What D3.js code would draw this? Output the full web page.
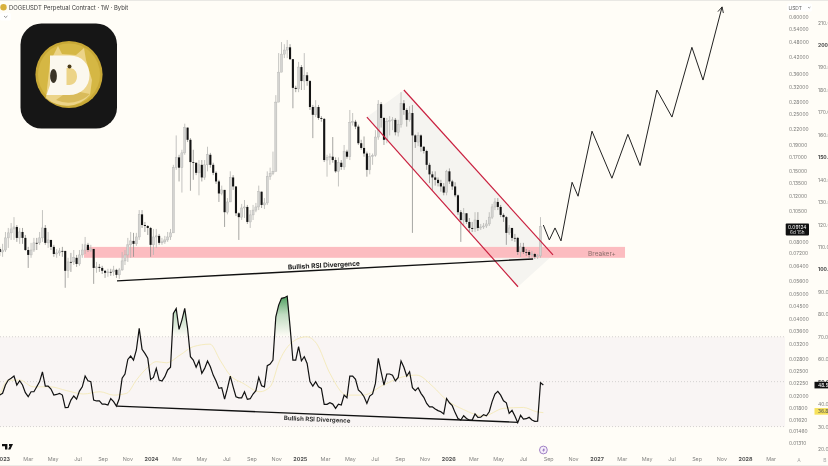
<!DOCTYPE html>
<html>
<head>
<meta charset="utf-8">
<script src="https://d3js.org/d3.v7.min.js"></script>
<style>
html, body { margin: 0; padding: 0; background: #fffdf7; overflow: hidden; }
svg { display: block; font-family: "Inter", "Liberation Sans", sans-serif; filter: blur(0.3px); }
</style>
</head>
<body>
<div id="chart"></div>
<script>
const width = 828, height = 466;

// weekly candles, the first one is the week before Jan 2023
const firstOpen = 0.0748;
const closes = [
	.0728,.0741,.0826,.0864,.0895,.0911,.0826,.0871,.0826,.0741,.0709,.0741,.0790,.0790,.0826,.0903,.0790,.0811,.0762,.0715,
	.0722,.0735,.0735,.0615,.0666,.0666,.0691,.0654,.0709,.0741,.0776,.0741,.0748,.0631,.0637,.0631,.0615,.0604,.0609,.0609,
	.0620,.0593,.0620,.0672,.0709,.0776,.0804,.0783,.0833,.102,.0927,.0919,.0903,.0776,.0833,.0841,.0790,.0797,.0811,.0833,
	.0864,.155,.170,.155,.177,.222,.199,.163,.162,.148,.159,.142,.159,.174,.159,.148,.137,.123,.127,.104,
	.114,.142,.131,.103,.0995,.108,.109,.0953,.1015,.106,.109,.125,.111,.113,.143,.147,.150,.279,.365,.429,
	.445,.456,.410,.317,.314,.382,.337,.355,.337,.267,.249,.267,.242,.240,.166,.170,.171,.166,.150,.162,
	.156,.179,.171,.232,.234,.224,.193,.185,.176,.152,.171,.173,.204,.274,.242,.199,.234,.236,.238,.213,
	.228,.276,.260,.238,.253,.207,.195,.207,.187,.180,.159,.146,.142,.139,.135,.131,.124,.150,.137,.131,
	.121,.104,.0970,.103,.0953,.0903,.0895,.0970,.0903,.0911,.0919,.0936,.0995,.109,.114,.109,.1015,.0995,.0864,.0903,
	.0826,.0826,.0728,.0762,.0728,.0728,.0709,.0715,.0697,.0703,.09124
];
const highs = [
	.0762,.0783,.0871,.0903,.0944,.0995,.0927,.0903,.0903,.0848,.0762,.0790,.0826,.0826,.0871,.106,.0927,.0871,.0811,.0776,
	.0748,.0755,.0762,.0735,.0691,.0722,.0741,.0709,.0741,.0783,.0833,.0790,.0776,.0748,.0666,.0654,.0643,.0620,.0626,.0626,
	.0643,.0626,.0631,.0728,.0741,.0826,.0871,.0864,.0864,.106,.106,.0953,.0927,.0911,.0895,.0895,.0856,.0826,.0841,.0871,
	.0895,.159,.207,.174,.182,.230,.222,.202,.182,.162,.166,.166,.166,.187,.177,.162,.150,.139,.132,.127,
	.118,.150,.145,.131,.104,.112,.116,.111,.106,.111,.113,.132,.125,.118,.150,.155,.179,.297,.433,.478,
	.469,.487,.469,.410,.323,.400,.389,.433,.365,.340,.272,.284,.272,.246,.242,.174,.176,.204,.170,.170,
	.166,.190,.182,.260,.253,.238,.228,.199,.205,.179,.177,.176,.217,.284,.279,.244,.242,.246,.244,.242,
	.238,.305,.284,.264,.269,.272,.209,.213,.209,.188,.182,.162,.150,.150,.142,.139,.135,.152,.154,.139,
	.136,.122,.106,.108,.103,.0987,.0953,.104,.104,.0936,.0944,.0970,.104,.112,.118,.118,.111,.103,.1005,.0927,
	.0903,.0856,.0833,.0790,.0790,.0748,.0741,.0735,.0722,.0715,.0995
];
const lows = [
	.0703,.0697,.0728,.0755,.0811,.0811,.0797,.0783,.0783,.0735,.0631,.0691,.0728,.0741,.0776,.0797,.0776,.0755,.0741,.0697,
	.0691,.0703,.0697,.0528,.0577,.0609,.0648,.0637,.0643,.0691,.0715,.0728,.0728,.0547,.0604,.0609,.0598,.0577,.0583,.0588,
	.0588,.0577,.0572,.0615,.0648,.0666,.0691,.0697,.0769,.0811,.0903,.0871,.0848,.0697,.0709,.0755,.0776,.0776,.0783,.0797,
	.0811,.0864,.152,.137,.124,.174,.195,.126,.139,.145,.121,.137,.139,.150,.155,.145,.134,.114,.121,.0911,
	.102,.114,.127,.1005,.0811,.0970,.0987,.0936,.0903,.0970,.104,.106,.108,.107,.111,.139,.145,.150,.279,.365,
	.414,.414,.407,.264,.305,.305,.311,.311,.323,.260,.202,.244,.238,.234,.163,.143,.159,.162,.148,.131,
	.152,.152,.168,.166,.226,.219,.190,.182,.171,.143,.146,.159,.171,.199,.222,.190,.193,.207,.217,.207,
	.205,.222,.249,.224,.234,.0864,.185,.188,.179,.176,.152,.135,.127,.132,.131,.125,.121,.121,.134,.127,
	.119,.1015,.0797,.0927,.0936,.0871,.0871,.0871,.0879,.0887,.0895,.0903,.0919,.0978,.106,.106,.0995,.0953,.0776,.0848,
	.0804,.0797,.0709,.0697,.0715,.0703,.0691,.0691,.0684,.0684,.0691
];

const rsi = [
	44,44.8,48.5,50.7,51.5,52.5,48.5,50.4,48.5,45.1,43.3,45.5,45.5,47.7,50,54.3,48,48,46.7,44,
	44.3,44.8,44,38.4,38.5,41.8,43.6,42.2,45.8,47.7,52.5,50.4,50,41.8,41.4,41.4,40,40,39.6,42.5,
	41.1,39.1,42.5,51.5,53.4,59.9,61.4,59.6,64.1,73.7,64.4,62.6,60.4,51,51.9,55.9,50.7,50.3,52.2,55.2,
	56.4,80.4,82.6,73.3,77.4,82.6,73.7,61.1,59.6,56.4,59.3,53.7,55.9,59.2,56.6,52.9,50.3,47,47.3,42.2,
	47,52.5,47.7,43.3,42.8,42.8,45.5,42.1,42.4,44.5,46,51.9,48.2,47.7,57.1,57.8,59.6,78.9,84.1,87.1,
	87.4,88.1,74.5,59.6,59.6,65.6,59.3,61.1,58.1,50,48,50,47.7,47,39.9,39.9,40.6,40,38.1,40,
	39.6,44,42.8,52.5,52.5,51,46.3,45.1,43.3,40.3,43.6,44.5,49.2,60.4,54.4,48.5,53.4,53.4,52.9,50.3,
	51.9,59.2,56.4,52.5,54.4,47.3,46,47.3,44.8,43,40.3,38.8,38.8,37.8,37.1,36.6,35.6,42.5,40.6,39.3,
	36.2,33.6,32.9,34.8,33.6,32.9,32.9,35.6,34.1,34.2,35.3,34.8,36.6,41.1,44.5,45.7,44,41.5,40.6,35.9,
	37.2,34.7,31.7,35,33.3,33.5,34.1,32.9,32.3,32.4,49.5,48.5
];
const rsiMaWeeks = [-1,2,6,10.8,16.6,22.5,28.4,34.2,39,43.6,47,50.6,54,57.6,62.3,67,72.9,76.4,79.9,84.6,90.4,94,97.4,102,106.8,110.3,115,120.9,126.7,133.8,140.8,145.5,151.3,156,161.9,169,176,183,187.6,190];
const rsiMa = [44,50.7,50.7,47.7,47.7,46,44.5,45.5,44,44.8,50.7,55.9,58.9,58.4,61.8,65.6,66.7,59.6,52.9,49.2,45.5,47.7,59.6,67.8,70,67,53.7,44,44,48.5,52.2,52.9,47.7,41.8,37.6,34.7,38.1,38.5,36.6,36.2];

// hand drawn things on the chart, [week since Jan 2023, price]
const channelUpper = [[141, .311], [193.4, .0709]];
const channelLower = [[128, .244], [181.1, .0533]];
const divergence = [[40.2, .0562], [186.4, .0684]];
const breakerWeeks = [28.6, 218.7], breakerPrices = [.0762, .0691];
const projection = [[190,.0927],[192.1,.0811],[194.1,.0903],[196.2,.0804],[200.1,.136],[202.2,.120],[207.1,.215],[214.1,.141],[219.7,.209],[224,.158],[229.9,.311],[235.2,.244],[242.2,.456],[246.1,.340],[252.8,.655]];
const rsiDivergence = [[40.2, 39.1], [181.1, 31.9]];

// axes
const priceTicks = [.6,.54,.48,.42,.36,.32,.28,.25,.22,.19,.17,.15,.135,.12,.105,.08,.072,.064,.056,.05,.045,.04,.036,.032,.028,.025,.0225,.02,.018,.0162,.0146,.0131];
const rsiTicks = [210,200,190,180,170,160,150,140,130,120,110,100,90,80,70,60,50,40,30,20];
const rsiBold = [200,150,100,50];
const rsiBands = [70,50,30];
const timeTicks = ["2023-01","2023-03","2023-05","2023-07","2023-09","2023-11","2024-01","2024-03","2024-05","2024-07","2024-09","2024-11","2025-01","2025-03","2025-05","2025-07","2025-09","2025-11","2026-01","2026-03","2026-05","2026-07","2026-09","2026-11","2027-01","2027-03","2027-05","2027-07","2027-09","2027-11","2028-01","2028-03"];
const monthNames = ["","Mar","","May","","Jul","","Sep","","Nov"];

const start = new Date(2023, 0, 1);
const weekDate = (w) => new Date(+start + w * 7 * 864e5);

const x = d3.scaleTime().domain([new Date(2024, 0, 1), new Date(2028, 0, 1)]).range([151, 745]);
const y = d3.scaleLog().domain([.6, .0131]).range([16.7, 443.3]);
const yRsi = d3.scaleLinear().domain([20, 210]).range([449, 22.4]);
const xw = (w) => x(weekDate(w));

const svg = d3.select("#chart").append("svg").attr("width", width).attr("height", height);
const defs = svg.append("defs");

svg.append("rect").attr("width", width).attr("height", height).attr("fill", "#fffdf7");
svg.append("rect").attr("width", width).attr("height", 1).attr("fill", "#e9e8e4");
svg.append("rect").attr("y", 465).attr("width", width).attr("height", 1).attr("fill", "#ecebe6");

// channel fill goes under the candles
svg.append("path")
	.attr("d", d3.line()([channelUpper[0], channelUpper[1], channelLower[1], channelLower[0]].map((d) => [xw(d[0]), y(d[1])])) + "Z")
	.attr("fill", "#f5f4f0");

// breaker block
svg.append("rect")
	.attr("x", xw(breakerWeeks[0]))
	.attr("width", xw(breakerWeeks[1]) - xw(breakerWeeks[0]))
	.attr("y", y(breakerPrices[0]))
	.attr("height", y(breakerPrices[1]) - y(breakerPrices[0]))
	.attr("fill", "#fcbcc0");
svg.append("text")
	.attr("x", 602).attr("y", 255.5)
	.attr("text-anchor", "middle")
	.attr("font-size", 6.5)
	.attr("fill", "#8c6f6c")
	.text("Breaker+");

// candles
const candles = closes.map((c, i) => ({
	week: i - 1,
	open: i == 0 ? firstOpen : closes[i - 1],
	close: c,
	high: highs[i],
	low: lows[i]
}));

const candle = svg.selectAll(".candle")
	.data(candles)
	.enter()
	.append("g")
	.classed("candle", true);

candle.append("line")
	.attr("x1", (d) => xw(d.week))
	.attr("x2", (d) => xw(d.week))
	.attr("y1", (d) => y(d.high))
	.attr("y2", (d) => y(d.low))
	.attr("stroke", (d) => d.close > d.open ? "#b5b5b3" : "#8f8f8d")
	.attr("stroke-width", 0.8);

candle.append("rect")
	.attr("x", (d) => xw(d.week) - 1.05)
	.attr("width", 2.1)
	.attr("y", (d) => y(Math.max(d.open, d.close)))
	.attr("height", (d) => Math.max(0.8, Math.abs(y(d.open) - y(d.close))))
	.attr("fill", (d) => d.close > d.open ? "#d4d4d1" : "#141414")
	.attr("stroke", (d) => d.close > d.open ? "#b0b0ae" : "none")
	.attr("stroke-width", 0.4);

// red channel
[channelUpper, channelLower].forEach(function(c){
	svg.append("line")
		.attr("x1", xw(c[0][0])).attr("y1", y(c[0][1]))
		.attr("x2", xw(c[1][0])).attr("y2", y(c[1][1]))
		.attr("stroke", "#c9203f")
		.attr("stroke-width", 1.2);
});

// price divergence
svg.append("line")
	.attr("x1", xw(divergence[0][0])).attr("y1", y(divergence[0][1]))
	.attr("x2", xw(divergence[1][0])).attr("y2", y(divergence[1][1]))
	.attr("stroke", "#111")
	.attr("stroke-width", 1.4);
svg.append("text")
	.attr("transform", "translate(324,267.5) rotate(-3)")
	.attr("text-anchor", "middle")
	.attr("font-size", 6.6)
	.attr("font-weight", 700)
	.attr("fill", "#222")
	.text("Bullish RSI Divergence");

// projected path with open arrow head
defs.append("marker")
	.attr("id", "arrow")
	.attr("viewBox", "0 0 10 10")
	.attr("refX", 9).attr("refY", 5)
	.attr("markerWidth", 7).attr("markerHeight", 7)
	.attr("markerUnits", "userSpaceOnUse")
	.attr("orient", "auto")
	.append("path")
	.attr("d", "M1 1L9 5L1 9")
	.attr("fill", "none")
	.attr("stroke", "#222")
	.attr("stroke-width", 1.2);

svg.append("path")
	.attr("d", d3.line().x((d) => xw(d[0])).y((d) => y(d[1]))(projection))
	.attr("fill", "none")
	.attr("stroke", "#222")
	.attr("stroke-width", 1)
	.attr("marker-end", "url(#arrow)");

// rsi pane
svg.append("rect")
	.attr("x", 0).attr("width", 785)
	.attr("y", yRsi(70))
	.attr("height", yRsi(30) - yRsi(70))
	.attr("fill", "#f9f5f4");
svg.selectAll(".band")
	.data(rsiBands)
	.enter()
	.append("line")
	.classed("band", true)
	.attr("x1", 0).attr("x2", 785)
	.attr("y1", (d) => yRsi(d)).attr("y2", (d) => yRsi(d))
	.attr("stroke", "#c4c2c0")
	.attr("stroke-width", 0.7)
	.attr("stroke-dasharray", "1 2");

// green above 70
const grad = defs.append("linearGradient")
	.attr("id", "overbought")
	.attr("gradientUnits", "userSpaceOnUse")
	.attr("x1", 0).attr("x2", 0)
	.attr("y1", yRsi(88)).attr("y2", yRsi(70));
grad.append("stop").attr("offset", 0).attr("stop-color", "#2f8f45").attr("stop-opacity", 0.85);
grad.append("stop").attr("offset", 0.45).attr("stop-color", "#2f8f45").attr("stop-opacity", 0.3);
grad.append("stop").attr("offset", 1).attr("stop-color", "#2f8f45").attr("stop-opacity", 0);
defs.append("clipPath").attr("id", "above70")
	.append("rect").attr("width", width).attr("height", yRsi(70));

const rsiPts = rsi.map((v, i) => [i - 1, v]);

svg.append("path")
	.attr("d", d3.area().x((d) => xw(d[0])).y0(yRsi(70)).y1((d) => yRsi(d[1]))(rsiPts))
	.attr("fill", "url(#overbought)")
	.attr("clip-path", "url(#above70)");

svg.append("path")
	.attr("d", d3.line().curve(d3.curveMonotoneX).x((d) => xw(d[0])).y((d) => yRsi(d[1]))(rsiMa.map((v, i) => [rsiMaWeeks[i], v])))
	.attr("fill", "none")
	.attr("stroke", "#f5ebbe")
	.attr("stroke-width", 1);

svg.append("path")
	.attr("d", d3.line().x((d) => xw(d[0])).y((d) => yRsi(d[1]))(rsiPts))
	.attr("fill", "none")
	.attr("stroke", "#111")
	.attr("stroke-width", 1.2);

svg.append("line")
	.attr("x1", xw(rsiDivergence[0][0])).attr("y1", yRsi(rsiDivergence[0][1]))
	.attr("x2", xw(rsiDivergence[1][0])).attr("y2", yRsi(rsiDivergence[1][1]))
	.attr("stroke", "#111")
	.attr("stroke-width", 1.3);
svg.append("text")
	.attr("transform", "translate(317,421.5) rotate(2.4)")
	.attr("text-anchor", "middle")
	.attr("font-size", 6.1)
	.attr("font-weight", 700)
	.attr("fill", "#333")
	.text("Bullish RSI Divergence");

// price axis
const priceAxis = d3.axisRight(y)
	.tickValues(priceTicks)
	.tickFormat((d) => d3.format(".5f")(d))
	.tickSize(0)
	.tickPadding(0);
svg.append("g")
	.attr("transform", "translate(789,0)")
	.call(priceAxis)
	.call((g) => g.select(".domain").remove())
	.selectAll("text")
	.attr("font-family", "Inter")
	.attr("font-size", 4.9)
	.attr("fill", "#7d7d7b");

// rsi scale, runs off the right edge
const rsiAxis = d3.axisRight(yRsi)
	.tickValues(rsiTicks)
	.tickFormat((d) => d3.format(".2f")(d))
	.tickSize(0)
	.tickPadding(0);
svg.append("g")
	.attr("transform", "translate(818,0)")
	.call(rsiAxis)
	.call((g) => g.select(".domain").remove())
	.selectAll("text")
	.attr("font-family", "Inter")
	.attr("font-size", 5)
	.attr("font-weight", (d) => rsiBold.includes(d) ? 700 : 400)
	.attr("fill", (d) => rsiBold.includes(d) ? "#444" : "#7d7d7b");

// time axis
const tickDate = (s) => new Date(+s.slice(0, 4), +s.slice(5) - 1, s.slice(5) == "01" ? 1 : 4);
const timeAxis = d3.axisBottom(x)
	.tickValues(timeTicks.map(tickDate))
	.tickFormat((d) => d.getMonth() == 0 ? d.getFullYear() : monthNames[d.getMonth() - 1])
	.tickSize(0)
	.tickPadding(0);
svg.append("g")
	.attr("transform", "translate(0,457.5)")
	.call(timeAxis)
	.call((g) => g.select(".domain").remove())
	.selectAll("text")
	.attr("font-family", "Inter")
	.attr("font-size", 5.4)
	.attr("font-weight", (d) => d.getMonth() == 0 ? 700 : 400)
	.attr("fill", (d) => d.getMonth() == 0 ? "#555" : "#858583");

svg.append("text").attr("x", 799).attr("y", 462).attr("text-anchor", "middle").attr("font-size", 5).attr("fill", "#aaa").text("A");
svg.append("text").attr("x", 825).attr("y", 462).attr("text-anchor", "middle").attr("font-size", 5).attr("fill", "#aaa").text("B");

// header
svg.append("circle").attr("cx", 3.5).attr("cy", 7.3).attr("r", 3.2).attr("fill", "#d8b13d");
svg.append("text").attr("x", 9).attr("y", 9.6)
	.attr("font-size", 5.9).attr("fill", "#3a3a3a")
	.text("DOGEUSDT Perpetual Contract · 1W · Bybit");
svg.append("rect").attr("x", 0).attr("y", 13).attr("width", 11).attr("height", 7.5).attr("rx", 1.5).attr("fill", "#fff");
svg.append("path").attr("d", "M4 16l1.7 1.5L7.4 16").attr("fill", "none").attr("stroke", "#666").attr("stroke-width", 0.7);

svg.append("rect").attr("x", 787).attr("y", 3.5).attr("width", 25).attr("height", 8).attr("rx", 1.5).attr("fill", "#fff");
svg.append("text").attr("x", 788.5).attr("y", 9.5).attr("font-size", 4.9).attr("fill", "#666").text("USDT");
svg.append("path").attr("d", "M808 7l1.2 1.1L810.4 7").attr("fill", "none").attr("stroke", "#666").attr("stroke-width", 0.6);

// last price and rsi badges
const lastPrice = closes[closes.length - 1];
svg.append("rect").attr("x", 785.7).attr("y", y(lastPrice) - 3.2).attr("width", 23.3).attr("height", 11.8).attr("rx", 0.8).attr("fill", "#111");
svg.append("text").attr("x", 797.3).attr("y", y(lastPrice) + 1.8).attr("text-anchor", "middle").attr("font-size", 4.9).attr("fill", "#fff").text(d3.format(".5f")(lastPrice));
svg.append("text").attr("x", 797.3).attr("y", y(lastPrice) + 7.2).attr("text-anchor", "middle").attr("font-size", 4.7).attr("fill", "#ddd").text("6d 15h");

const lastRsi = rsi[rsi.length - 1];
svg.append("rect").attr("x", 814.5).attr("y", yRsi(lastRsi) - 3.2).attr("width", 14).attr("height", 6.6).attr("fill", "#111");
svg.append("text").attr("x", 818).attr("y", yRsi(lastRsi) + 1.7).attr("font-size", 4.9).attr("fill", "#fff").text(d3.format(".2f")(lastRsi));
const lastMa = 36.8;
svg.append("rect").attr("x", 814.5).attr("y", yRsi(lastMa) - 3.2).attr("width", 14).attr("height", 6.6).attr("fill", "#f6e15a");
svg.append("text").attr("x", 818).attr("y", yRsi(lastMa) + 1.7).attr("font-size", 4.9).attr("fill", "#555").text(d3.format(".2f")(lastMa));

// tradingview mark and the flash icon
svg.append("path").attr("d", "M2 444h5.4v5.6H5v-3.4H2z M9 444h4l-2.6 5.6H8.1l1.6-3.6H9z").attr("fill", "#111");
svg.append("circle").attr("cx", 543.4).attr("cy", 450).attr("r", 3.9).attr("fill", "#f6f0fa").attr("stroke", "#8c66b8").attr("stroke-width", 0.8);
svg.append("path").attr("d", "M544.5 447.6l-2.3 2.8h1.4l-.7 2 2.3-2.8h-1.4z").attr("fill", "#8c66b8");

// dogecoin logo
const logo = svg.append("g");
logo.append("rect").attr("x", 20.5).attr("y", 23.5).attr("width", 96.5).attr("height", 105).attr("rx", 21).attr("fill", "#161616");
logo.append("circle").attr("cx", 69).attr("cy", 74.5).attr("r", 33.6).attr("fill", "#c8a836");
logo.append("circle").attr("cx", 69).attr("cy", 74.5).attr("r", 31).attr("fill", "#d5b744");
logo.append("path").attr("d", "M46 98 L50 62 L58 46 L62 54 L76 55 L84 48 L86 60 L92 80 L90 95 A31 31 0 0 1 46 98Z").attr("fill", "#ecd488");
logo.append("path").attr("d", "M56 100 L70 90 L90 94 A31 31 0 0 1 56 100Z").attr("fill", "#d9bb5a");
logo.append("path")
	.attr("d", "M50 55.5H70C82 55.5 89.5 64 89.5 75C89.5 87 81 95 69 95H46.5L50 85V71Z M66.5 68V85H69.5C74 85 77 81 77 76.5C77 71.5 74 68 69.5 68Z")
	.attr("fill", "#fbf8ee")
	.attr("fill-rule", "evenodd");
logo.append("ellipse").attr("cx", 53.5).attr("cy", 76).attr("rx", 3.4).attr("ry", 7).attr("fill", "#3a3427");
logo.append("circle").attr("cx", 69.5).attr("cy", 66.5).attr("r", 2).attr("fill", "#4a3a18");
</script>
</body>
</html>
